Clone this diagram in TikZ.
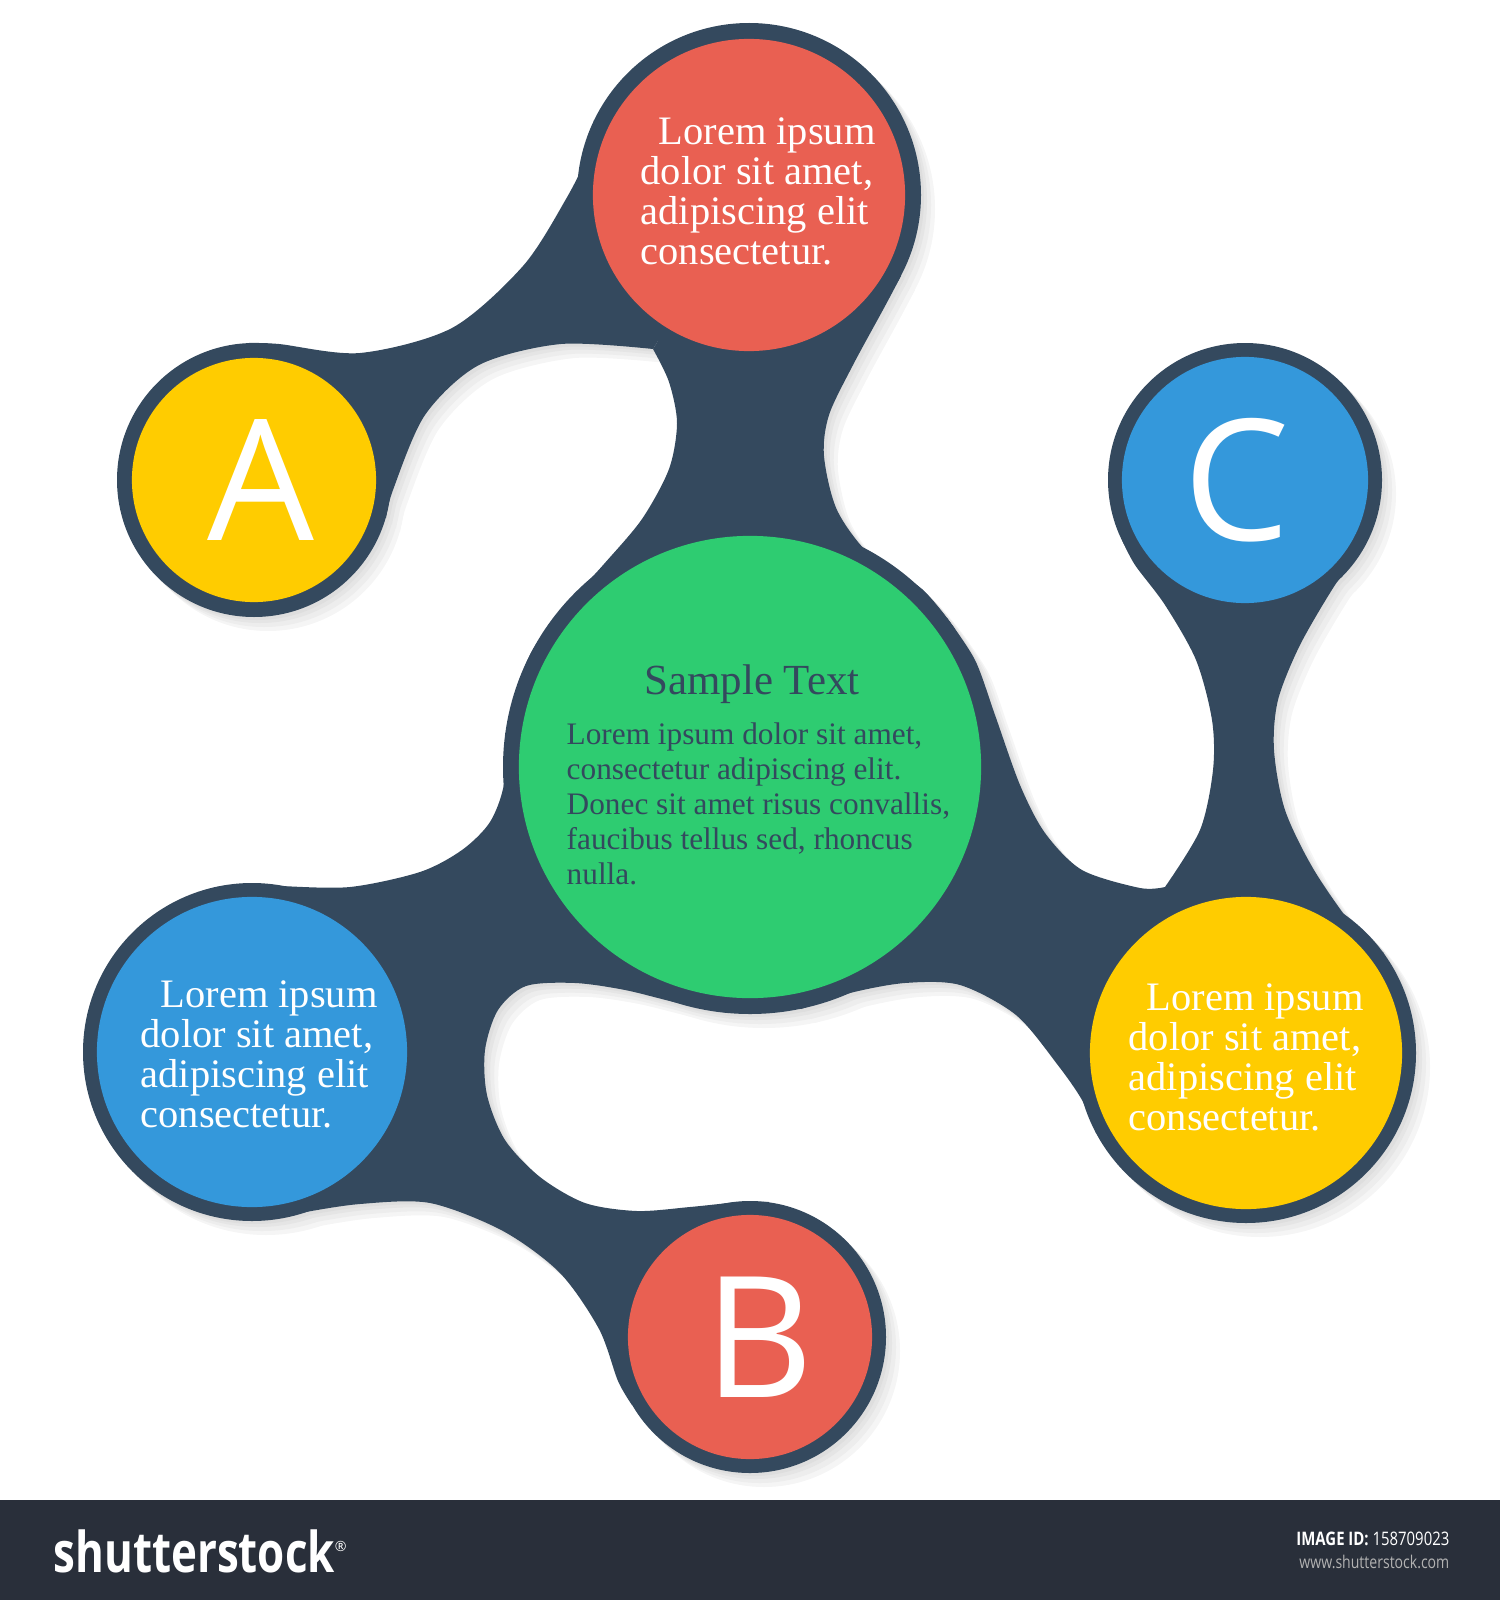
\documentclass[tikz,border=0pt]{standalone}
\usepackage{fontspec}
\setmainfont{Liberation Serif}
\newfontfamily\letterfont{Open Sans}
\newfontfamily\logofont{Open Sans}
\usetikzlibrary{positioning}

\definecolor{slate}{HTML}{34495E}
\definecolor{tomato}{HTML}{E96052}
\definecolor{leaf}{HTML}{2ECC71}
\definecolor{sky}{HTML}{3498DB}
\definecolor{sun}{HTML}{FFCC00}
\definecolor{footc}{HTML}{292F3A}

% the dark body: rings and the necks between them
\newcommand\metablob{%
\fill (ca) circle[radius=137];
\fill (cc) circle[radius=137];
\fill (cb) circle[radius=136];
\fill (cr) circle[radius=172];
\fill (cl) circle[radius=169];
\fill (cy) circle[radius=170];
\fill (cg) circle[radius=247];
% A to top
\fill (ca) -- plot[smooth] coordinates {(249,343) (279,344) (360,353) (452,328) (523,266) (566,199) (588,154) (594,120)}
  -- (cr) -- (653,349)
  -- plot[smooth] coordinates {(653,349) (561,344) (479,365) (425,415) (393,490) (386,518)} -- cycle;
% top to middle
\fill (cr) -- plot[smooth] coordinates {(653,349) (669,382) (677,423) (669,469) (642,519) (604,564) (566,606) (532,651) (513,699)}
  -- (cg)
  -- plot[smooth] coordinates {(955,629) (922,589) (870,555) (837,510) (824,456) (829,415) (853,365) (884,308) (901,276)} -- cycle;
% middle to left and B
\fill (cg) -- plot[smooth] coordinates {(505,733) (504,784) (490,822) (462,850) (420,872) (350,887) (280,886) (252,884) (217,887)}
  -- (cl)
  -- plot[smooth] coordinates {(267,1220) (300,1213) (360,1204) (430,1203) (503,1231) (560,1273) (599,1329) (618,1381) (632,1405)}
  -- (cb)
  -- plot[smooth] coordinates {(769,1202) (740,1202) (690,1207) (637,1211) (585,1203) (540,1177) (505,1140) (487,1095) (485,1050) (498,1010) (526,986) (575,983) (625,990) (678,1003) (728,1013)} -- cycle;
% middle to right and C
\fill (cg) -- plot[smooth] coordinates {(947,618) (975,660) (995,715) (1020,785) (1045,833) (1082,870) (1140,888) (1165,887)}
  -- plot[smooth] coordinates {(1165,887) (1200,830) (1213,770) (1212,720) (1196,660) (1165,605) (1135,565) (1122,540)}
  -- (cc)
  -- plot[smooth] coordinates {(1354,562) (1335,585) (1300,645) (1278,700) (1274,750) (1285,810) (1314,870) (1356,930) (1384,953)}
  -- (cy)
  -- plot[smooth] coordinates {(1096,1133) (1082,1100) (1057,1064) (1016,1015) (960,985) (905,983) (850,993) (801,1009)} -- cycle;
}

\begin{document}
\begin{tikzpicture}[x=0.01cm,y=-0.01cm]
\useasboundingbox (0,0) rectangle (1500,1600);

\tikzstyle{disc}=[circle,inner sep=0pt]
\tikzstyle{bigletter}=[text=white,font=\letterfont\fontsize{48}{48}\selectfont]
\tikzstyle{blurb}=[anchor=north west,align=left,inner sep=0pt,text=white,font=\fontsize{11.5}{11.4}\selectfont]

\coordinate (ca) at (254,480);
\coordinate (cc) at (1245,480);
\coordinate (cr) at (749,195);
\coordinate (cg) at (750,767);
\coordinate (cl) at (252,1052);
\coordinate (cy) at (1246,1053);
\coordinate (cb) at (750,1337);

% soft shadow
\begin{scope}[color=black!4,transform canvas={shift={(14,14)}}] \metablob \end{scope}
\begin{scope}[color=black!7,transform canvas={shift={(10,10)}}] \metablob \end{scope}
\begin{scope}[color=black!10,transform canvas={shift={(6,6)}}] \metablob \end{scope}
\begin{scope}[color=black!13,transform canvas={shift={(3,3)}}] \metablob \end{scope}
\begin{scope}[color=slate] \metablob \end{scope}

% coloured discs
\node[disc,fill=sun,minimum size=2.44cm] (A) at (ca) {};
\node[disc,fill=sky,minimum size=2.46cm] (C) at (cc) {};
\node[disc,fill=tomato,minimum size=2.44cm] (B) at (cb) {};
\node[disc,fill=tomato,minimum size=3.12cm] (top) at (cr) {};
\node[disc,fill=sky,minimum size=3.10cm] (left) at (cl) {};
\node[disc,fill=sun,minimum size=3.12cm] (right) at (cy) {};
\node[disc,fill=leaf,minimum size=4.62cm] (mid) at (cg) {};

% letters
\node[bigletter,xshift=0.07cm] at (A) {A};
\node[bigletter,xshift=0.09cm] at (B) {B};
\node[bigletter,xshift=-0.08cm] at (C) {C};

% texts
\node[blurb] (topnote) at (640,117) {\hspace*{0.18cm}Lorem ipsum\\dolor sit amet,\\adipiscing elit\\consectetur.};
\node[blurb] (leftnote) at (140,980) {\hspace*{0.20cm}Lorem ipsum\\dolor sit amet,\\adipiscing elit\\consectetur.};
\node[blurb] (rightnote) at (1128,983) {\hspace*{0.18cm}Lorem ipsum\\dolor sit amet,\\adipiscing elit\\consectetur.};
\node[anchor=base,inner sep=0pt,text=slate,font=\fontsize{12.2}{14}\selectfont] (title) at (752,694) {Sample Text};
\node[anchor=north west,align=left,inner sep=0pt,text=slate,font=\fontsize{8.9}{9.95}\selectfont] (body) at (566,722)
  {Lorem ipsum dolor sit amet,\\consectetur adipiscing elit.\\Donec sit amet risus convallis,\\faucibus tellus sed, rhoncus\\nulla.};

% footer bar
\fill[footc] (0,1500) rectangle (1500,1600);
\node[anchor=base west,inner sep=0pt,text=white] (logo) at (53,1572)
  {\scalebox{0.78}[1]{\logofont\bfseries\fontsize{16}{16}\selectfont shutterstock}\raisebox{1.3ex}{\logofont\fontsize{4}{4}\selectfont ®}};
\node[anchor=base east,inner sep=0pt,text=white] (imgid) at (1450,1545)
  {\scalebox{0.8}[1]{\logofont\fontsize{5.3}{6}\selectfont\bfseries IMAGE ID: \mdseries 158709023}};
\node[anchor=base east,inner sep=0pt,text=black!30] (www) at (1450,1568)
  {\scalebox{0.8}[1]{\logofont\fontsize{5}{6}\selectfont www.shutterstock.com}};

\end{tikzpicture}
\end{document}
